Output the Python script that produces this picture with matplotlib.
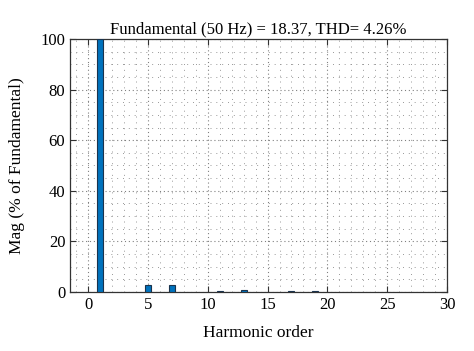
import numpy as np
from matplotlib import pyplot as plt
from matplotlib.ticker import MultipleLocator

plt.rcParams['font.family'] = ['Liberation Serif', 'DejaVu Serif']

harmonics = [1, 5, 7, 11, 13, 17, 19]
mag = [100, 2.6, 2.8, 0.6, 0.7, 0.35, 0.6]
title = 'Fundamental (50 Hz) = 18.37, THD= 4.26%'

fig = plt.figure(figsize=(4.74, 3.51), dpi=100)
ax = fig.add_axes([0.148, 0.168, 0.795, 0.721])

ax.bar(harmonics, mag, width=0.5, color=(0, 0.447, 0.741),
       edgecolor=(0.1, 0.2, 0.3), linewidth=0.8, zorder=3)

ax.set_xlim(-1.5, 30)
ax.set_ylim(0, 100)
ax.xaxis.set_major_locator(MultipleLocator(5))
ax.yaxis.set_major_locator(MultipleLocator(20))
ax.xaxis.set_minor_locator(MultipleLocator(1))
ax.yaxis.set_minor_locator(MultipleLocator(5))

ax.grid(which='major', linestyle=(0, (1, 2.5)), color='0.5', linewidth=0.8)
ax.grid(which='minor', linestyle=(0, (1, 5)), color='0.6', linewidth=0.7)
ax.set_axisbelow(True)

ax.tick_params(which='major', direction='in', length=4, top=True, right=True,
               labelsize=12, color='0.2')
ax.tick_params(which='minor', length=0)
for s in ax.spines.values():
    s.set_color('0.2')
    s.set_linewidth(0.9)

ax.set_title(title, fontsize=12, pad=4)
ax.set_xlabel('Harmonic order', fontsize=12.5, labelpad=9)
ax.set_ylabel('Mag (% of Fundamental)', fontsize=12.5, labelpad=11)

fig.savefig('out.png', dpi=100)
